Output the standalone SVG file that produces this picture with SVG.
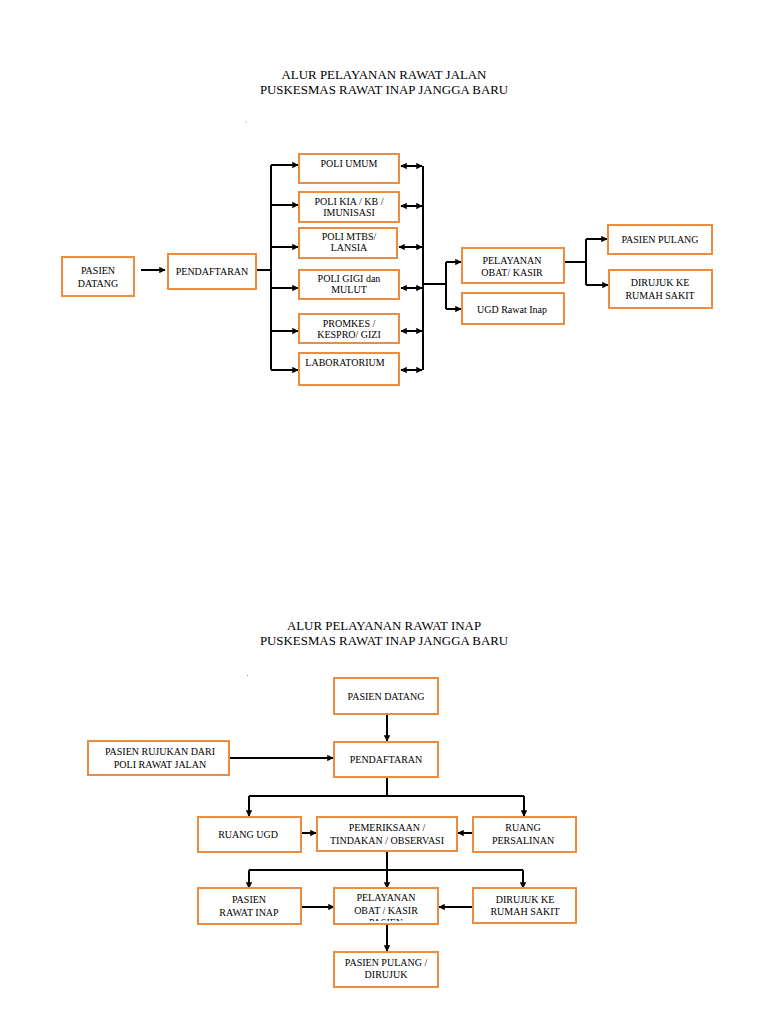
<svg xmlns="http://www.w3.org/2000/svg" width="768" height="1024" viewBox="0 0 768 1024">
<style>
.box{fill:#fff;stroke:#EB8C40;stroke-width:2}
.t{font-family:"Liberation Serif","Times New Roman",serif;font-size:10px;fill:#000;text-anchor:middle}
.title{font-family:"Liberation Serif","Times New Roman",serif;font-size:12.9px;fill:#000;text-anchor:middle}
.ln{fill:none;stroke:#000;stroke-width:2}
.a{marker-end:url(#ah)}
.aa{marker-start:url(#ahs);marker-end:url(#ah)}
</style>
<defs>
<marker id="ah" viewBox="0 0 10 10" refX="9" refY="5" markerWidth="3.2" markerHeight="3.2" orient="auto" markerUnits="strokeWidth"><path d="M0,0 L10,5 L0,10 z" fill="#000"/></marker>
<marker id="ahs" viewBox="0 0 10 10" refX="1" refY="5" markerWidth="3.2" markerHeight="3.2" orient="auto" markerUnits="strokeWidth"><path d="M10,0 L0,5 L10,10 z" fill="#000"/></marker>
<clipPath id="clipPel"><rect x="335" y="889" width="103" height="32"/></clipPath>
</defs>
<rect width="768" height="1024" fill="#fff"/>

<!-- Top diagram -->
<g id="title-top">
<text class="title" x="384" y="79">ALUR PELAYANAN RAWAT JALAN</text>
<text class="title" x="384" y="94">PUSKESMAS RAWAT INAP JANGGA BARU</text>
<circle cx="246" cy="122" r="0.5" fill="#666"/>
</g>

<g id="connectors-top">
<path class="ln a" d="M141,270 H165"/>
<path class="ln" d="M256,270 H271"/>
<path class="ln" d="M271,165 V370"/>
<path class="ln a" d="M271,165 H298"/>
<path class="ln a" d="M271,205 H298"/>
<path class="ln a" d="M271,247 H298"/>
<path class="ln a" d="M271,288 H298"/>
<path class="ln a" d="M271,331 H298"/>
<path class="ln a" d="M271,370 H298"/>
<path class="ln aa" d="M401,166 H422"/>
<path class="ln aa" d="M401,206 H422"/>
<path class="ln aa" d="M399,247 H422"/>
<path class="ln aa" d="M401,288 H422"/>
<path class="ln aa" d="M401,331 H422"/>
<path class="ln aa" d="M401,370 H422"/>
<path class="ln" d="M423,166 V370"/>
<path class="ln" d="M423,284 H446"/>
<path class="ln" d="M446,262 V309"/>
<path class="ln a" d="M446,262 H461"/>
<path class="ln a" d="M446,309 H461"/>
<path class="ln" d="M564,262 H586"/>
<path class="ln" d="M586,239 V285"/>
<path class="ln a" d="M586,239 H607"/>
<path class="ln a" d="M586,285 H608"/>
</g>

<g id="n-pasien-datang"><rect class="box" x="62" y="257" width="72" height="39"/>
<text class="t" x="98" y="273.5">PASIEN</text><text class="t" x="98" y="287">DATANG</text></g>
<g id="n-pendaftaran"><rect class="box" x="168" y="254" width="88" height="35"/>
<text class="t" x="212" y="274.5">PENDAFTARAN</text></g>
<g id="n-poli-umum"><rect class="box" x="299" y="154" width="100" height="29"/>
<text class="t" x="349" y="167">POLI UMUM</text></g>
<g id="n-poli-kia"><rect class="box" x="299" y="192" width="100" height="30"/>
<text class="t" x="349" y="204.5">POLI KIA / KB /</text><text class="t" x="349" y="216">IMUNISASI</text></g>
<g id="n-poli-mtbs"><rect class="box" x="299" y="228" width="98" height="30"/>
<text class="t" x="349" y="240">POLI MTBS/</text><text class="t" x="349" y="251">LANSIA</text></g>
<g id="n-poli-gigi"><rect class="box" x="299" y="270" width="100" height="29"/>
<text class="t" x="349" y="282">POLI GIGI dan</text><text class="t" x="349" y="292.5">MULUT</text></g>
<g id="n-promkes"><rect class="box" x="299" y="314" width="100" height="29"/>
<text class="t" x="349" y="327">PROMKES /</text><text class="t" x="349" y="338">KESPRO/ GIZI</text></g>
<g id="n-lab"><rect class="box" x="299" y="353" width="100" height="32"/>
<text class="t" x="345" y="366">LABORATORIUM</text></g>
<g id="n-pelayanan-top"><rect class="box" x="462" y="248" width="102" height="35"/>
<text class="t" x="512" y="263.5">PELAYANAN</text><text class="t" x="512" y="276">OBAT/ KASIR</text></g>
<g id="n-ugd-rawat-inap"><rect class="box" x="462" y="293" width="102" height="31"/>
<text class="t" x="512" y="312.5">UGD Rawat Inap</text></g>
<g id="n-pasien-pulang"><rect class="box" x="608" y="225" width="104" height="29"/>
<text class="t" x="660" y="243">PASIEN PULANG</text></g>
<g id="n-dirujuk-top"><rect class="box" x="609" y="270" width="103" height="38"/>
<text class="t" x="660" y="286">DIRUJUK KE</text><text class="t" x="660" y="299">RUMAH SAKIT</text></g>

<!-- Bottom diagram -->
<g id="title-bottom">
<text class="title" x="384" y="630">ALUR PELAYANAN RAWAT INAP</text>
<text class="title" x="384" y="644.5">PUSKESMAS RAWAT INAP JANGGA BARU</text>
<circle cx="247.5" cy="675.5" r="0.5" fill="#666"/>
</g>

<g id="connectors-bottom">
<path class="ln a" d="M387,714 V741"/>
<path class="ln a" d="M229,758 H333"/>
<path class="ln" d="M387,777 V796"/>
<path class="ln" d="M249,796 H524"/>
<path class="ln a" d="M249,796 V816"/>
<path class="ln a" d="M524,796 V816"/>
<path class="ln a" d="M301,833 H316"/>
<path class="ln a" d="M472,833 H458"/>
<path class="ln a" d="M387,851 V888"/>
<path class="ln" d="M249,870 H523"/>
<path class="ln a" d="M249,870 V888"/>
<path class="ln a" d="M523,870 V888"/>
<path class="ln a" d="M301,907 H334"/>
<path class="ln a" d="M472,907 H439"/>
<path class="ln a" d="M387,924 V951"/>
</g>

<g id="n-pasien-datang-2"><rect class="box" x="334" y="678" width="104" height="36"/>
<text class="t" x="386" y="699.5">PASIEN DATANG</text></g>
<g id="n-pasien-rujukan"><rect class="box" x="88" y="741" width="141" height="34"/>
<text class="t" x="160" y="755">PASIEN RUJUKAN DARI</text><text class="t" x="160" y="768">POLI RAWAT JALAN</text></g>
<g id="n-pendaftaran-2"><rect class="box" x="334" y="742" width="104" height="35"/>
<text class="t" x="386" y="763">PENDAFTARAN</text></g>
<g id="n-ruang-ugd"><rect class="box" x="198" y="817" width="103" height="35"/>
<text class="t" x="248" y="838">RUANG UGD</text></g>
<g id="n-pemeriksaan"><rect class="box" x="317" y="817" width="140" height="34"/>
<text class="t" x="387" y="831">PEMERIKSAAN /</text><text class="t" x="387" y="844">TINDAKAN / OBSERVASI</text></g>
<g id="n-ruang-persalinan"><rect class="box" x="473" y="817" width="103" height="35"/>
<text class="t" x="523" y="831">RUANG</text><text class="t" x="523" y="844">PERSALINAN</text></g>
<g id="n-pasien-rawat-inap"><rect class="box" x="198" y="888" width="103" height="36"/>
<text class="t" x="249" y="902.5">PASIEN</text><text class="t" x="249" y="916">RAWAT INAP</text></g>
<g id="n-pelayanan-bottom"><rect class="box" x="334" y="888" width="104" height="36"/>
<text class="t" x="386" y="901">PELAYANAN</text><text class="t" x="386" y="913.5">OBAT / KASIR</text>
<text class="t" x="386" y="926" clip-path="url(#clipPel)">PASIEN</text></g>
<g id="n-dirujuk-bottom"><rect class="box" x="473" y="888" width="103" height="35"/>
<text class="t" x="525" y="902.5">DIRUJUK KE</text><text class="t" x="525" y="915">RUMAH SAKIT</text></g>
<g id="n-pasien-pulang-dirujuk"><rect class="box" x="334" y="952" width="104" height="35"/>
<text class="t" x="386" y="966">PASIEN PULANG /</text><text class="t" x="386" y="978">DIRUJUK</text></g>
</svg>
